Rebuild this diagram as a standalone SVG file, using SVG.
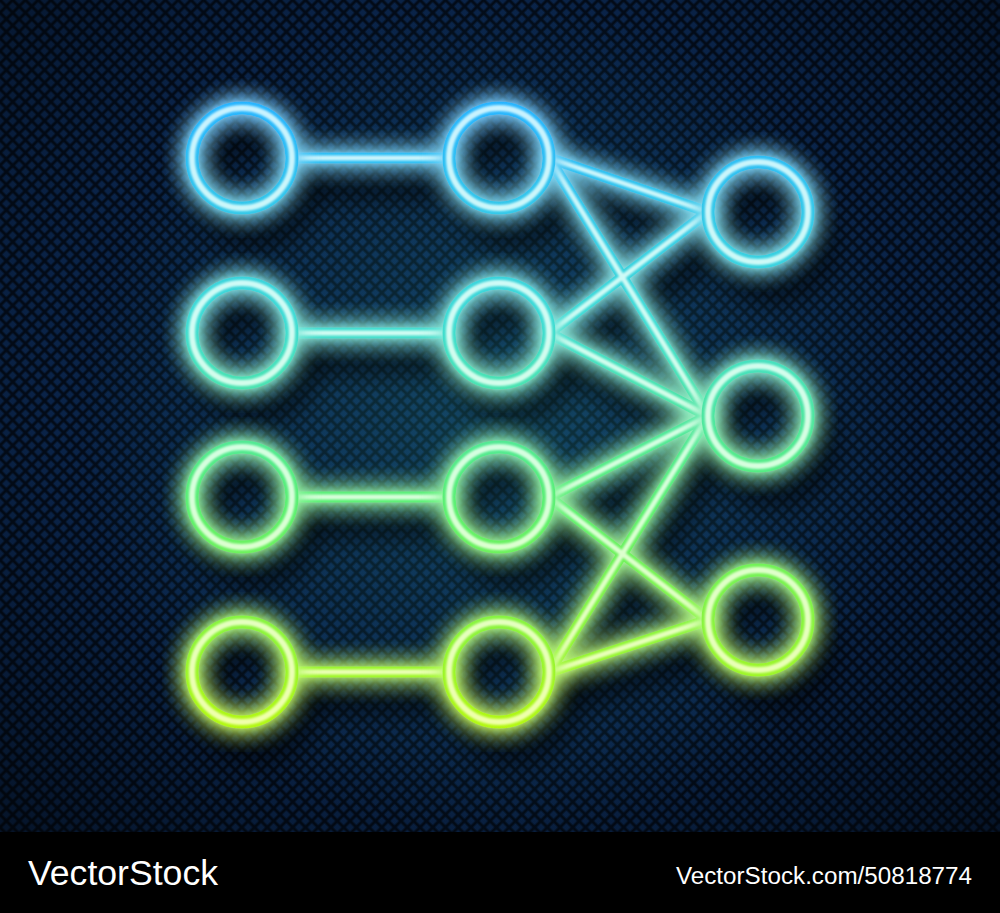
<svg xmlns="http://www.w3.org/2000/svg" width="1000" height="913" viewBox="0 0 1000 913">
<defs>
  <pattern id="grid" width="9" height="9" patternUnits="userSpaceOnUse" patternTransform="rotate(45)">
    <rect width="9" height="9" fill="#030c1a"/>
    <rect x="1.5" y="1.5" width="6" height="6" fill="#0b2750"/>
  </pattern>
  <radialGradient id="vign" cx="0.5" cy="0.45" r="0.75">
    <stop offset="0" stop-color="#000" stop-opacity="0"/>
    <stop offset="0.6" stop-color="#000" stop-opacity="0.1"/>
    <stop offset="1" stop-color="#000" stop-opacity="0.5"/>
  </radialGradient>
  <radialGradient id="halo" cx="500" cy="420" r="420" gradientUnits="userSpaceOnUse">
    <stop offset="0" stop-color="#2aa0a0" stop-opacity="0.3"/>
    <stop offset="0.7" stop-color="#2080a0" stop-opacity="0.12"/>
    <stop offset="1" stop-color="#2080a0" stop-opacity="0"/>
  </radialGradient>
  <linearGradient id="neon" x1="0" y1="100" x2="0" y2="730" gradientUnits="userSpaceOnUse">
    <stop offset="0" stop-color="#28b4ff"/>
    <stop offset="0.35" stop-color="#40dcd4"/>
    <stop offset="0.65" stop-color="#5cf070"/>
    <stop offset="1" stop-color="#b4f810"/>
  </linearGradient>
  <linearGradient id="core" x1="0" y1="100" x2="0" y2="730" gradientUnits="userSpaceOnUse">
    <stop offset="0" stop-color="#c8f2ff"/>
    <stop offset="0.35" stop-color="#d0fcf4"/>
    <stop offset="0.65" stop-color="#d8ffd8"/>
    <stop offset="1" stop-color="#f0ffa8"/>
  </linearGradient>
  <filter id="glow" x="-30%" y="-30%" width="160%" height="160%">
    <feGaussianBlur in="SourceGraphic" stdDeviation="4" result="b1"/>
    <feGaussianBlur in="SourceGraphic" stdDeviation="12" result="b2"/>
    <feMerge>
      <feMergeNode in="b2"/>
      <feMergeNode in="b2"/>
      <feMergeNode in="b1"/>
      <feMergeNode in="SourceGraphic"/>
    </feMerge>
  </filter>
  <filter id="shadow" x="-30%" y="-30%" width="160%" height="160%">
    <feGaussianBlur stdDeviation="12"/>
  </filter>
  <filter id="soft" x="-10%" y="-10%" width="120%" height="120%">
    <feGaussianBlur stdDeviation="1.3"/>
  </filter>
  <style>
    .n{fill:none;stroke:url(#neon);stroke-width:13}
    .c{fill:none;stroke:url(#core);stroke-width:6}
    .l{stroke:url(#neon);stroke-width:11;stroke-linecap:round}
    .lc{stroke:url(#core);stroke-width:5;stroke-linecap:round}
    .sh{fill:none;stroke:#000;stroke-width:24;stroke-opacity:0.6}
    .wm{fill:#fff;font-family:"Liberation Sans","Arial",sans-serif}
  </style>
</defs>

<rect width="1000" height="913" fill="url(#grid)"/>
<rect width="1000" height="832" fill="url(#halo)"/>
<rect width="1000" height="832" fill="url(#vign)"/>

<g id="shadows" filter="url(#shadow)" transform="translate(14,28)">
  <circle class="sh" cx="242" cy="158" r="50"/><circle class="sh" cx="499" cy="158" r="50"/>
  <circle class="sh" cx="242" cy="333" r="50"/><circle class="sh" cx="499" cy="333" r="50"/>
  <circle class="sh" cx="242" cy="497" r="50"/><circle class="sh" cx="499" cy="497" r="50"/>
  <circle class="sh" cx="242" cy="672" r="50"/><circle class="sh" cx="499" cy="672" r="50"/>
  <circle class="sh" cx="758" cy="212" r="50"/><circle class="sh" cx="758" cy="416" r="50"/><circle class="sh" cx="758" cy="620" r="50"/>
  <path class="sh" d="M292 158H449M292 333H449M292 497H449M292 672H449M549 158L708 212M549 158L708 416M549 333L708 212M549 333L708 416M549 497L708 416M549 497L708 620M549 672L708 416M549 672L708 620"/>
</g>

<g id="connectors" filter="url(#glow)">
  <g>
    <line class="l" x1="292" y1="158" x2="449" y2="158"/>
    <line class="l" x1="292" y1="333" x2="449" y2="333"/>
    <line class="l" x1="292" y1="497" x2="449" y2="497"/>
    <line class="l" x1="292" y1="672" x2="449" y2="672"/>
    <line class="l" x1="549" y1="158" x2="708" y2="212"/>
    <line class="l" x1="549" y1="158" x2="708" y2="416"/>
    <line class="l" x1="549" y1="333" x2="708" y2="212"/>
    <line class="l" x1="549" y1="333" x2="708" y2="416"/>
    <line class="l" x1="549" y1="497" x2="708" y2="416"/>
    <line class="l" x1="549" y1="497" x2="708" y2="620"/>
    <line class="l" x1="549" y1="672" x2="708" y2="416"/>
    <line class="l" x1="549" y1="672" x2="708" y2="620"/>
  </g>
  <g filter="url(#soft)">
    <line class="lc" x1="292" y1="158" x2="449" y2="158"/>
    <line class="lc" x1="292" y1="333" x2="449" y2="333"/>
    <line class="lc" x1="292" y1="497" x2="449" y2="497"/>
    <line class="lc" x1="292" y1="672" x2="449" y2="672"/>
    <line class="lc" x1="549" y1="158" x2="708" y2="212"/>
    <line class="lc" x1="549" y1="158" x2="708" y2="416"/>
    <line class="lc" x1="549" y1="333" x2="708" y2="212"/>
    <line class="lc" x1="549" y1="333" x2="708" y2="416"/>
    <line class="lc" x1="549" y1="497" x2="708" y2="416"/>
    <line class="lc" x1="549" y1="497" x2="708" y2="620"/>
    <line class="lc" x1="549" y1="672" x2="708" y2="416"/>
    <line class="lc" x1="549" y1="672" x2="708" y2="620"/>
  </g>
</g>

<g id="in1" filter="url(#glow)"><circle class="n" cx="242" cy="158" r="50"/><circle class="c" cx="242" cy="158" r="50" filter="url(#soft)"/></g>
<g id="in2" filter="url(#glow)"><circle class="n" cx="242" cy="333" r="50"/><circle class="c" cx="242" cy="333" r="50" filter="url(#soft)"/></g>
<g id="in3" filter="url(#glow)"><circle class="n" cx="242" cy="497" r="50"/><circle class="c" cx="242" cy="497" r="50" filter="url(#soft)"/></g>
<g id="in4" filter="url(#glow)"><circle class="n" cx="242" cy="672" r="50"/><circle class="c" cx="242" cy="672" r="50" filter="url(#soft)"/></g>
<g id="mid1" filter="url(#glow)"><circle class="n" cx="499" cy="158" r="50"/><circle class="c" cx="499" cy="158" r="50" filter="url(#soft)"/></g>
<g id="mid2" filter="url(#glow)"><circle class="n" cx="499" cy="333" r="50"/><circle class="c" cx="499" cy="333" r="50" filter="url(#soft)"/></g>
<g id="mid3" filter="url(#glow)"><circle class="n" cx="499" cy="497" r="50"/><circle class="c" cx="499" cy="497" r="50" filter="url(#soft)"/></g>
<g id="mid4" filter="url(#glow)"><circle class="n" cx="499" cy="672" r="50"/><circle class="c" cx="499" cy="672" r="50" filter="url(#soft)"/></g>
<g id="out1" filter="url(#glow)"><circle class="n" cx="758" cy="212" r="50"/><circle class="c" cx="758" cy="212" r="50" filter="url(#soft)"/></g>
<g id="out2" filter="url(#glow)"><circle class="n" cx="758" cy="416" r="50"/><circle class="c" cx="758" cy="416" r="50" filter="url(#soft)"/></g>
<g id="out3" filter="url(#glow)"><circle class="n" cx="758" cy="620" r="50"/><circle class="c" cx="758" cy="620" r="50" filter="url(#soft)"/></g>

<g id="watermark">
  <rect x="0" y="832" width="1000" height="81" fill="#000"/>
  <text class="wm" x="28" y="885" font-size="35" textLength="190" lengthAdjust="spacingAndGlyphs">VectorStock</text>
  <text class="wm" x="676" y="884" font-size="23" textLength="296" lengthAdjust="spacingAndGlyphs">VectorStock.com/50818774</text>
</g>
</svg>
